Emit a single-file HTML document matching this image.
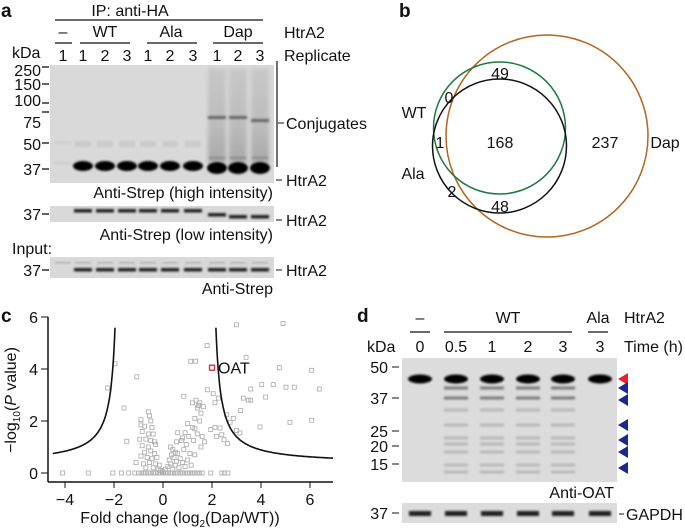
<!DOCTYPE html>
<html><head><meta charset="utf-8"><style>
html,body{margin:0;padding:0;background:#fff;}
svg{display:block;font-family:"Liberation Sans",Arial,sans-serif;}
text{fill:#111;}
</style></head><body>
<svg id="fig" width="685" height="529" viewBox="0 0 685 529">
<defs>
<filter id="bl" x="-20%" y="-100%" width="140%" height="300%"><feGaussianBlur stdDeviation="1.1"/></filter>
<filter id="bl2" x="-20%" y="-20%" width="140%" height="140%"><feGaussianBlur stdDeviation="2"/></filter>
<linearGradient id="smear" x1="0" y1="0" x2="0" y2="1">
<stop offset="0" stop-color="#c8c8c8"/><stop offset="0.6" stop-color="#bcbcbc"/><stop offset="1" stop-color="#a8a8a8"/>
</linearGradient>
</defs>

<!-- PANEL A -->
<g font-size="16">
<text x="1" y="17" font-size="19" font-weight="bold">a</text>
<text x="130" y="16" text-anchor="middle">IP: anti-HA</text>
<line x1="55" y1="20" x2="263" y2="20" stroke="#111" stroke-width="1.2"/>
<text x="63" y="37" text-anchor="middle">–</text><line x1="55" y1="43" x2="72" y2="43" stroke="#111" stroke-width="1.2"/>
<text x="105" y="37" text-anchor="middle">WT</text><line x1="80" y1="43" x2="130" y2="43" stroke="#111" stroke-width="1.2"/>
<text x="171" y="37" text-anchor="middle">Ala</text><line x1="147" y1="43" x2="197" y2="43" stroke="#111" stroke-width="1.2"/>
<text x="238" y="37" text-anchor="middle">Dap</text><line x1="213" y1="43" x2="263" y2="43" stroke="#111" stroke-width="1.2"/>
<text x="284" y="38">HtrA2</text>
<text x="12" y="58">kDa</text>
<g id="repnums" text-anchor="middle"></g>
<text x="284" y="61">Replicate</text>
<rect x="50" y="65" width="224" height="118" fill="#d9d9d9"/>
<g id="gel1"></g>
<g text-anchor="end">
<text x="41" y="76">250</text><line x1="42" y1="67" x2="49" y2="67" stroke="#111" stroke-width="1.3"/>
<text x="41" y="90">150</text><line x1="42" y1="84" x2="49" y2="84" stroke="#111" stroke-width="1.3"/>
<text x="41" y="106">100</text><line x1="42" y1="103" x2="49" y2="103" stroke="#111" stroke-width="1.3"/>
<line x1="42" y1="112" x2="49" y2="112" stroke="#111" stroke-width="1.3"/>
<text x="41" y="128">75</text>
<text x="41" y="150">50</text><line x1="42" y1="143" x2="49" y2="143" stroke="#111" stroke-width="1.3"/>
<text x="41" y="175">37</text><line x1="42" y1="169" x2="49" y2="169" stroke="#111" stroke-width="1.3"/>
</g>
<line x1="277" y1="61" x2="277" y2="167" stroke="#111" stroke-width="1.2"/>
<line x1="278" y1="123" x2="284" y2="123" stroke="#111"/>
<text x="286" y="129">Conjugates</text>
<line x1="276" y1="180" x2="282" y2="180" stroke="#111"/>
<text x="286" y="186">HtrA2</text>
<text x="273" y="198" text-anchor="end">Anti-Strep (high intensity)</text>
<rect x="50" y="206" width="224" height="16" fill="#d9d9d9"/>
<g id="gel2"></g>
<text x="41" y="220" text-anchor="end">37</text><line x1="42" y1="214" x2="49" y2="214" stroke="#111" stroke-width="1.3"/>
<line x1="276" y1="220" x2="282" y2="220" stroke="#111"/><text x="286" y="226">HtrA2</text>
<text x="273" y="240" text-anchor="end">Anti-Strep (low intensity)</text>
<text x="12" y="254">Input:</text>
<rect x="50" y="257" width="224" height="21" fill="#d9d9d9"/>
<g id="gel3"></g>
<text x="41" y="276" text-anchor="end">37</text><line x1="42" y1="270" x2="49" y2="270" stroke="#111" stroke-width="1.3"/>
<line x1="276" y1="270" x2="282" y2="270" stroke="#111"/><text x="286" y="276">HtrA2</text>
<text x="273" y="294" text-anchor="end">Anti-Strep</text>
</g>

<!-- PANEL B -->
<g font-size="16">
<text x="399" y="17" font-size="19" font-weight="bold">b</text>
<circle cx="547" cy="136" r="101" fill="none" stroke="#b5651d" stroke-width="1.5"/>
<circle cx="499.5" cy="128" r="66" fill="none" stroke="#1e7a45" stroke-width="1.5"/>
<circle cx="499.5" cy="146" r="67" fill="none" stroke="#111" stroke-width="1.5"/>
<g text-anchor="middle">
<text x="500" y="79">49</text><text x="449" y="103">0</text><text x="414" y="118">WT</text>
<text x="440" y="148">1</text><text x="500" y="148">168</text><text x="605" y="148">237</text>
<text x="413" y="179">Ala</text><text x="452" y="197">2</text><text x="500" y="212">48</text>
<text x="665" y="148">Dap</text>
</g>
</g>

<!-- PANEL C -->
<g font-size="16">
<text x="1" y="322" font-size="19" font-weight="bold">c</text>
<g id="vol"></g>
</g>

<!-- PANEL D -->
<g font-size="16">
<text x="357" y="322" font-size="19" font-weight="bold">d</text>
<text x="420" y="323" text-anchor="middle">–</text><line x1="410" y1="332" x2="430" y2="332" stroke="#111" stroke-width="1.2"/>
<text x="508" y="323" text-anchor="middle">WT</text><line x1="444" y1="332" x2="572" y2="332" stroke="#111" stroke-width="1.2"/>
<text x="598" y="323" text-anchor="middle">Ala</text><line x1="588" y1="332" x2="608" y2="332" stroke="#111" stroke-width="1.2"/>
<text x="624" y="323">HtrA2</text>
<text x="367" y="352">kDa</text>
<g id="times" text-anchor="middle"></g>
<text x="624" y="352">Time (h)</text>
<rect x="402" y="358" width="215" height="124" fill="#dcdcdc"/>
<g id="geld"></g>
<g text-anchor="end">
<text x="388" y="373">50</text><line x1="392" y1="367" x2="399" y2="367" stroke="#111"/>
<text x="388" y="404">37</text><line x1="392" y1="398" x2="399" y2="398" stroke="#111"/>
<text x="388" y="437">25</text><line x1="392" y1="431" x2="399" y2="431" stroke="#111"/>
<text x="388" y="452">20</text><line x1="392" y1="446" x2="399" y2="446" stroke="#111"/>
<text x="388" y="470">15</text><line x1="392" y1="464" x2="399" y2="464" stroke="#111"/>
</g>
<g id="arrows"></g>
<text x="614" y="498" text-anchor="end">Anti-OAT</text>
<rect x="402" y="503" width="215" height="20" fill="#dcdcdc"/>
<g id="gelg"></g>
<text x="388" y="519" text-anchor="end">37</text><line x1="392" y1="513" x2="399" y2="513" stroke="#111"/>
<line x1="619" y1="514" x2="624" y2="514" stroke="#111"/><text x="626" y="520">GAPDH</text>
</g>
</svg>
<script>
// ---- volcano data ----
const volX = [3.0,4.9,1.8,1.13,1.33,6.07,4.75,3.39,-1.96,-2.27,-1.07,-1.59,-1.48,3.58,4.03,4.5,5.02,5.36,6.38,3.28,3.48,3.58,4.19,3.17,1.81,2.05,2.26,2.12,2.6,2.87,2.74,1.95,2.12,2.33,3.0,3.14,2.4,2.49,2.63,2.19,3.96,5.18,6.07,
-0.9,-0.6,-0.55,-0.5,-0.75,-0.45,-0.85,-0.6,-0.4,-0.7,-0.5,-0.35,-0.85,-0.6,-0.3,-0.75,-0.5,-0.35,-0.9,-0.65,-0.45,-0.25,-1.1,-0.8,-0.55,-0.3,-0.15,-0.7,-0.4,-0.2,-0.1,0.0,-0.95,-0.9,
0.3,0.4,0.5,0.35,0.6,0.45,0.25,0.7,0.55,0.3,0.2,0.1,0.85,0.95,1.1,0.75,0.6,0.9,1.2,1.3,1.4,1.0,1.3,1.5,1.55,1.4,1.45,1.65,1.2,1.35,1.5,0.85,1.05,1.25,1.6,0.8,1.0,0.9,0.65,1.15,1.55,0.5,0.4,0.55,0.8,1.7,1.3,
-4.1,-3.05,-2.05,-1.7,-1.4,-1.15,-1.0,-0.9,-0.8,-0.7,-0.6,-0.5,-0.4,-0.3,-0.2,-0.1,0.0,0.1,0.2,0.3,0.4,0.5,0.6,0.7,0.8,0.9,1.0,1.1,1.2,1.3,1.4,1.5,1.6,1.95,2.4,2.5,2.65];
const volY = [5.7,5.75,4.9,4.3,4.3,3.95,4.05,4.45,4.2,3.27,3.7,2.5,1.22,3.23,3.4,3.4,3.3,3.3,3.23,2.88,2.8,2.8,2.92,2.4,3.2,3.05,2.88,2.7,2.24,2.1,1.95,1.67,1.76,1.73,1.63,1.54,1.47,1.28,1.13,1.41,1.77,1.95,2.03,
2.05,2.35,2.2,2.0,1.8,1.75,1.6,1.5,1.5,1.3,1.25,1.2,1.05,1.0,1.1,0.8,0.85,0.75,0.65,0.6,0.55,0.6,0.4,0.35,0.4,0.35,0.3,0.2,0.2,0.15,0.1,0.05,1.3,1.85,
1.0,0.9,0.8,0.7,0.75,0.6,0.5,0.55,0.45,0.35,0.25,0.15,0.9,1.1,0.75,1.25,1.55,1.55,1.75,1.7,1.5,1.9,2.1,2.0,2.3,2.5,2.6,2.55,2.7,2.8,2.7,2.95,1.4,1.25,1.4,0.4,0.5,0.25,0.2,0.3,1.0,0.3,0.15,1.2,1.35,1.2,0.7,
0,0,0,0,0,0,0,0,0,0,0,0,0,0,0,0,0,0,0,0,0,0,0,0,0,0,0,0,0,0,0,0,0,0,0,0,0];
const highlightX = [2.0];
const highlightY = [4.05];
const xTicks = [-4,-2,0,2,4,6];
const yTicks = [0,2,4,6];

const NS='http://www.w3.org/2000/svg';
function mk(tag, attrs, parent){const e=document.createElementNS(NS,tag);for(const k in attrs)e.setAttribute(k,attrs[k]);parent.appendChild(e);return e;}
const sx = v => 65 + (v+4)*24.5;
const sy = v => 473 - v*26;
const vol = document.getElementById('vol');
let ax = mk('line',{x1:48,y1:317,x2:48,y2:482,stroke:'#111','stroke-width':1.5},vol);


ax = mk('line',{x1:48,y1:482,x2:333,y2:482,stroke:'#111','stroke-width':1.5},vol);


yTicks.forEach(t=>{
  mk('line',{x1:41,y1:sy(t),x2:48,y2:sy(t),stroke:'#111'},vol);
  const tx=mk('text',{x:38,y:sy(t)+6,'text-anchor':'end','font-size':16},vol);tx.textContent=t;
  
  
});
xTicks.forEach(t=>{
  mk('line',{x1:sx(t),y1:482,x2:sx(t),y2:488,stroke:'#111'},vol);
  const tx=mk('text',{x:sx(t),y:505,'text-anchor':'middle','font-size':16},vol);tx.textContent=t<0?'\u2212'+(-t):t;
  
  
});
let t1=mk('text',{x:180,y:523,'text-anchor':'middle','font-size':16},vol);
t1.innerHTML='Fold change (log<tspan font-size="10" dy="4">2</tspan><tspan dy="-4">(Dap/WT))</tspan>';


let t2=mk('text',{x:0,y:0,'text-anchor':'middle','font-size':16,transform:'translate(16,400) rotate(-90)'},vol);
t2.innerHTML='\u2212log<tspan font-size="10" dy="4">10</tspan><tspan dy="-4">(</tspan><tspan font-style="italic">P</tspan> value)';


volX.forEach((x,i)=>{
  const p=mk('rect',{x:sx(x)-2,y:sy(volY[i])-2,width:4,height:4,fill:'none',stroke:'#aaa','stroke-width':0.8},vol);
  
  
});
highlightX.forEach((x,i)=>{
  const p=mk('rect',{x:sx(x)-2.5,y:sy(highlightY[i])-2.5,width:5,height:5,fill:'none',stroke:'#d7263d','stroke-width':1.3},vol);
  
  
  const l=mk('text',{x:sx(x)+6,y:sy(highlightY[i])+6,'font-size':16},vol);l.textContent='OAT';
  
  
});
let dR='',dL='';
for(let x=1.96;x<=6.95;x+=0.02){const y=0.35+1.1/(x-1.95);if(y>6.05)continue;dR+=(dR?'L':'M')+sx(x).toFixed(1)+','+sy(y).toFixed(1);}
for(let x=-4.5;x<=-1.76;x+=0.02){const y=0.35+1.1/(-x-1.75);if(y>6.05)continue;dL+=(dL?'L':'M')+sx(x).toFixed(1)+','+sy(y).toFixed(1);}
let c=mk('path',{d:dR,fill:'none',stroke:'#111','stroke-width':1.6},vol);


c=mk('path',{d:dL,fill:'none',stroke:'#111','stroke-width':1.6},vol);



// ---- panel a blots ----
const laneA=[63,83,105,127,148,170,193,217,238,260];
const repLabels=['1','1','2','3','1','2','3','1','2','3'];
const rn=document.getElementById('repnums');
laneA.forEach((x,i)=>{const t=mk('text',{x:x,y:61},rn);t.textContent=repLabels[i];
  
  });
const g1=document.getElementById('gel1');
laneA.forEach((x,i)=>{
  if(i===0){mk('rect',{x:x-9,y:141,width:18,height:3,fill:'#cfcfcf',filter:'url(#bl)'},g1);mk('rect',{x:x-9,y:162,width:18,height:2,fill:'#c8c8c8',filter:'url(#bl)'},g1);return;}
  mk('rect',{x:x-8,y:141,width:16,height:6,fill:'#cbcbcb',filter:'url(#bl)'},g1);
  if(i>=7){
    mk('rect',{x:x-9,y:68,width:18,height:95,fill:'url(#smear)',filter:'url(#bl2)'},g1);
    mk('rect',{x:x-9,y:i===9?119:116,width:18,height:3,fill:'#666',filter:'url(#bl)'},g1);
    mk('rect',{x:x-8,y:157,width:16,height:2,fill:'#888',filter:'url(#bl)'},g1);
  }
  const b=mk('ellipse',{cx:x,cy:i>=7?168:166,rx:10,ry:i>=7?6:5,fill:'#000',filter:'url(#bl)'},g1);
  
  
});
const g2=document.getElementById('gel2');
laneA.forEach((x,i)=>{if(i===0)return;
  const b=mk('rect',{x:x-9,y:i>=7?(i===7?213:215):209,width:18,height:3.5,fill:'#222',filter:'url(#bl)'},g2);
  
  });
const g3=document.getElementById('gel3');
laneA.forEach((x,i)=>{
  mk('rect',{x:x-8,y:262,width:16,height:1.5,fill:'#aaa',filter:'url(#bl)'},g3);
  if(i===0)return;
  const b=mk('rect',{x:x-9,y:268,width:18,height:3.5,fill:'#222',filter:'url(#bl)'},g3);
  
  });

// ---- panel d ----
const laneD=[420,456,492,528,563,600];
const timeLabels=['0','0.5','1','2','3','3'];
const tg=document.getElementById('times');
laneD.forEach((x,i)=>{const t=mk('text',{x:x,y:352},tg);t.textContent=timeLabels[i];
  
  });
const gd=document.getElementById('geld');
const subBands=[388,398,410,425,438,444,452,465,472];
laneD.forEach((x,i)=>{
  const b=mk('ellipse',{cx:x,cy:379,rx:12,ry:4.5,fill:'#000',filter:'url(#bl)'},gd);
  
  
  if(i>=1&&i<=4){subBands.forEach((y,j)=>{mk('rect',{x:x-12,y:y-1.5,width:24,height:3,fill:j<2?'#7a7a7a':'#b8b8b8',filter:'url(#bl)'},gd);});}
});
const gg=document.getElementById('gelg');
laneD.forEach(x=>{const b=mk('rect',{x:x-11,y:511,width:22,height:5,fill:'#222',filter:'url(#bl)'},gg);
  
  });
const ar=document.getElementById('arrows');
const arrowY=[379,388,400,425,440,452,468];
arrowY.forEach((y,i)=>{
  const p=mk('polygon',{points:`618,${y} 628,${y-6} 628,${y+6}`,fill:i===0?'#e8202a':'#1a2a8c'},ar);
  
  
});
</script>
</body></html>
